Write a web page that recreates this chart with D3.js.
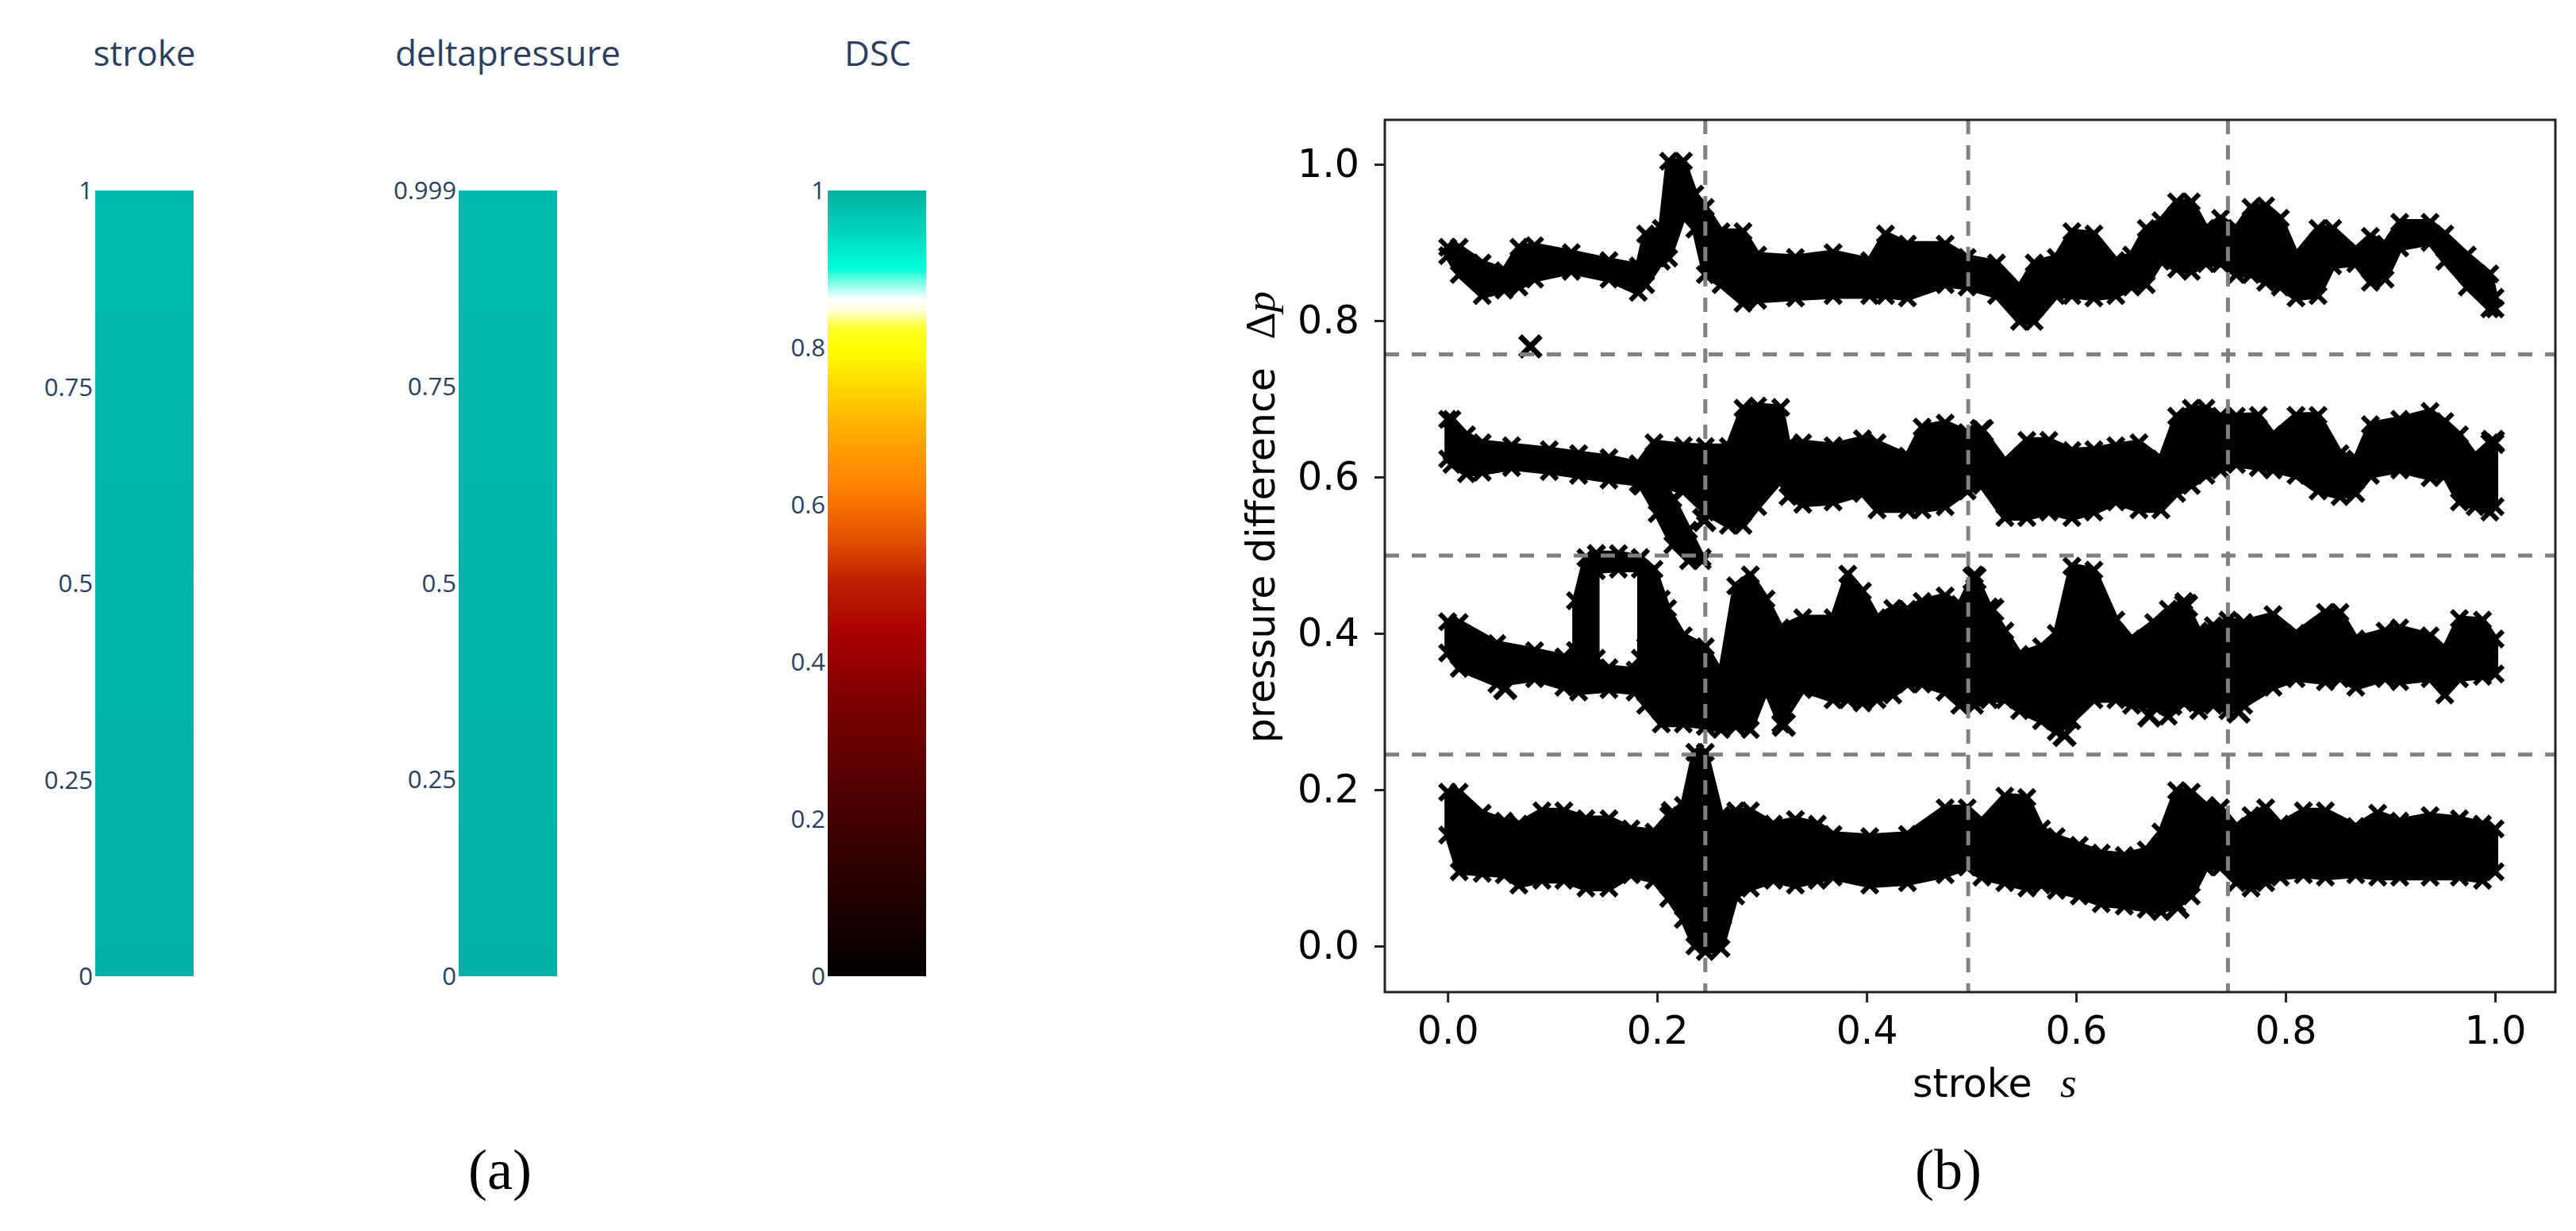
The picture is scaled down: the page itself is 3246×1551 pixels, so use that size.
<!DOCTYPE html>
<html>
<head>
<meta charset="utf-8">
<script src="https://cdn.jsdelivr.net/npm/d3@7"></script>
<style>
	body { margin: 0; background: #fff; }
	svg { display: block; }
</style>
</head>
<body>
<div id="chart"></div>
<script>
// ---- panel (a): colour bars ----
var barNames = ["stroke", "deltapressure", "DSC"];
var barMax = [1, 0.999, 1];
var barTicks = [[0, 0.25, 0.5, 0.75, 1], [0, 0.25, 0.5, 0.75, 0.999], [0, 0.2, 0.4, 0.6, 0.8, 1]];
var tealStops = [0, 1];
var tealColors = ["#00b0a4", "#00bbad"];
var dscStops = [0, 0.09, 0.19, 0.29, 0.356, 0.436, 0.503, 0.555, 0.622, 0.675, 0.721, 0.8, 0.825, 0.848, 0.861, 0.887, 0.9, 0.954, 1];
var dscColors = ["#000000", "#200000", "#400000", "#660000", "#800000", "#aa0000", "#c02000", "#e05000", "#ff8000", "#ffa000", "#ffc000", "#ffff00", "#ffff30", "#ffffe0", "#ffffff", "#60ffe0", "#00ffd8", "#00d0b8", "#00b0a0"];

// ---- panel (b): scatter of pressure difference vs stroke ----
var xTicks = [0, 0.2, 0.4, 0.6, 0.8, 1.0];
var yTicks = [0, 0.2, 0.4, 0.6, 0.8, 1.0];
var vLines = [0.246, 0.497, 0.745];
var hLines = [0.245, 0.4995, 0.757];

// bands as [stroke, lower, upper] envelopes
var band1 = [
	[0.0, 0.875, 0.902], [0.011, 0.851, 0.902], [0.033, 0.824, 0.882], [0.054, 0.831, 0.872],
	[0.068, 0.835, 0.902], [0.083, 0.845, 0.904], [0.118, 0.855, 0.895], [0.154, 0.845, 0.885],
	[0.182, 0.828, 0.878], [0.189, 0.838, 0.919], [0.204, 0.868, 0.926], [0.211, 0.872, 1.012],
	[0.225, 0.926, 1.012], [0.236, 0.909, 0.970], [0.246, 0.851, 0.953], [0.261, 0.838, 0.922],
	[0.282, 0.814, 0.922], [0.296, 0.818, 0.892], [0.332, 0.821, 0.889], [0.368, 0.824, 0.895],
	[0.403, 0.824, 0.885], [0.418, 0.824, 0.919], [0.439, 0.821, 0.906], [0.475, 0.838, 0.906],
	[0.496, 0.835, 0.889], [0.524, 0.824, 0.882], [0.546, 0.791, 0.851], [0.560, 0.791, 0.882],
	[0.581, 0.824, 0.889], [0.596, 0.824, 0.922], [0.617, 0.821, 0.919], [0.638, 0.824, 0.885],
	[0.653, 0.835, 0.892], [0.667, 0.838, 0.926], [0.681, 0.868, 0.936], [0.696, 0.858, 0.960],
	[0.710, 0.855, 0.960], [0.724, 0.865, 0.926], [0.738, 0.865, 0.939], [0.753, 0.851, 0.926],
	[0.767, 0.851, 0.953], [0.781, 0.841, 0.955], [0.795, 0.835, 0.939], [0.810, 0.821, 0.892],
	[0.831, 0.824, 0.926], [0.845, 0.862, 0.926], [0.867, 0.865, 0.899], [0.881, 0.841, 0.916],
	[0.895, 0.845, 0.906], [0.909, 0.885, 0.934], [0.938, 0.892, 0.934], [0.952, 0.868, 0.919],
	[0.9735, 0.835, 0.892], [0.995, 0.807, 0.868], [1.0, 0.807, 0.838]
];
var band2 = [
	[0.0, 0.615, 0.682], [0.004, 0.608, 0.682], [0.018, 0.596, 0.662], [0.033, 0.598, 0.652],
	[0.061, 0.604, 0.648], [0.097, 0.599, 0.643], [0.125, 0.594, 0.638], [0.154, 0.588, 0.633],
	[0.182, 0.584, 0.625], [0.197, 0.584, 0.652], [0.225, 0.574, 0.648], [0.246, 0.547, 0.647],
	[0.268, 0.530, 0.647], [0.282, 0.530, 0.696], [0.296, 0.554, 0.699], [0.318, 0.588, 0.697],
	[0.325, 0.567, 0.648], [0.339, 0.557, 0.652], [0.368, 0.560, 0.648], [0.396, 0.571, 0.657],
	[0.410, 0.550, 0.652], [0.439, 0.550, 0.635], [0.453, 0.550, 0.672], [0.475, 0.554, 0.677],
	[0.496, 0.574, 0.665], [0.510, 0.581, 0.669], [0.532, 0.540, 0.628], [0.553, 0.540, 0.655],
	[0.574, 0.547, 0.655], [0.596, 0.540, 0.642], [0.617, 0.547, 0.643], [0.638, 0.560, 0.648],
	[0.660, 0.550, 0.652], [0.681, 0.550, 0.631], [0.696, 0.571, 0.686], [0.710, 0.581, 0.696],
	[0.724, 0.594, 0.696], [0.738, 0.601, 0.686], [0.753, 0.608, 0.686], [0.774, 0.604, 0.687],
	[0.788, 0.601, 0.662], [0.810, 0.594, 0.687], [0.831, 0.574, 0.687], [0.852, 0.567, 0.638],
	[0.867, 0.571, 0.631], [0.881, 0.594, 0.675], [0.909, 0.601, 0.682], [0.938, 0.591, 0.692],
	[0.952, 0.594, 0.679], [0.966, 0.560, 0.662], [0.981, 0.554, 0.635], [0.995, 0.547, 0.652],
	[1.0, 0.554, 0.652]
];
var band2Tail = [
	[0.185, 0.580, 0.620], [0.200, 0.545, 0.610], [0.215, 0.505, 0.580], [0.230, 0.485, 0.540], [0.243, 0.485, 0.505]
];
var band3 = [
	[0.0, 0.367, 0.423], [0.011, 0.347, 0.422], [0.047, 0.327, 0.395], [0.083, 0.334, 0.386],
	[0.111, 0.323, 0.378], [0.125, 0.317, 0.381], [0.154, 0.320, 0.364], [0.179, 0.317, 0.361],
	[0.189, 0.300, 0.391], [0.204, 0.276, 0.452], [0.225, 0.276, 0.405], [0.246, 0.273, 0.391],
	[0.261, 0.269, 0.357], [0.275, 0.273, 0.469], [0.289, 0.269, 0.483], [0.304, 0.320, 0.452],
	[0.318, 0.276, 0.415], [0.339, 0.320, 0.428], [0.368, 0.307, 0.428], [0.382, 0.307, 0.484],
	[0.396, 0.303, 0.462], [0.410, 0.307, 0.428], [0.425, 0.313, 0.440], [0.439, 0.327, 0.439],
	[0.453, 0.327, 0.449], [0.475, 0.317, 0.456], [0.489, 0.300, 0.445], [0.503, 0.300, 0.483],
	[0.517, 0.307, 0.442], [0.532, 0.307, 0.411], [0.546, 0.293, 0.381], [0.567, 0.280, 0.391],
	[0.581, 0.266, 0.408], [0.596, 0.280, 0.494], [0.617, 0.307, 0.489], [0.638, 0.307, 0.425],
	[0.653, 0.300, 0.401], [0.674, 0.300, 0.422], [0.688, 0.286, 0.439], [0.703, 0.303, 0.449],
	[0.717, 0.293, 0.411], [0.731, 0.300, 0.418], [0.745, 0.293, 0.425], [0.760, 0.300, 0.422],
	[0.788, 0.323, 0.432], [0.810, 0.334, 0.408], [0.838, 0.330, 0.435], [0.852, 0.334, 0.435],
	[0.867, 0.323, 0.401], [0.895, 0.334, 0.411], [0.909, 0.330, 0.415], [0.938, 0.334, 0.405],
	[0.952, 0.313, 0.388], [0.966, 0.334, 0.427], [0.988, 0.337, 0.425], [1.0, 0.340, 0.401]
];
var band3LoopLeft = [[0.122, 0.370, 0.450], [0.132, 0.370, 0.505], [0.142, 0.360, 0.510]];
var band3LoopTop = [[0.142, 0.472, 0.510], [0.163, 0.474, 0.510], [0.184, 0.474, 0.505]];
var band3LoopRight = [[0.184, 0.360, 0.505], [0.197, 0.360, 0.490], [0.210, 0.360, 0.440]];
var band4 = [
	[0.0, 0.134, 0.205], [0.011, 0.087, 0.205], [0.033, 0.085, 0.178], [0.054, 0.083, 0.168],
	[0.068, 0.070, 0.164], [0.090, 0.076, 0.181], [0.111, 0.076, 0.181], [0.132, 0.066, 0.171],
	[0.154, 0.066, 0.171], [0.175, 0.083, 0.158], [0.197, 0.076, 0.154], [0.211, 0.053, 0.175],
	[0.225, 0.026, 0.188], [0.236, -0.008, 0.256], [0.246, -0.015, 0.256], [0.261, -0.011, 0.175],
	[0.275, 0.056, 0.181], [0.289, 0.066, 0.181], [0.311, 0.076, 0.164], [0.332, 0.070, 0.170],
	[0.353, 0.076, 0.164], [0.368, 0.080, 0.151], [0.403, 0.070, 0.148], [0.439, 0.073, 0.151],
	[0.475, 0.083, 0.185], [0.496, 0.093, 0.185], [0.510, 0.080, 0.168], [0.532, 0.073, 0.200],
	[0.553, 0.066, 0.198], [0.567, 0.070, 0.158], [0.581, 0.063, 0.148], [0.603, 0.056, 0.137],
	[0.624, 0.046, 0.127], [0.646, 0.043, 0.124], [0.667, 0.039, 0.131], [0.681, 0.036, 0.154],
	[0.696, 0.046, 0.207], [0.710, 0.056, 0.205], [0.724, 0.093, 0.188], [0.738, 0.093, 0.185],
	[0.753, 0.073, 0.161], [0.767, 0.066, 0.175], [0.781, 0.073, 0.185], [0.795, 0.080, 0.164],
	[0.817, 0.083, 0.181], [0.838, 0.080, 0.181], [0.867, 0.083, 0.161], [0.888, 0.080, 0.178],
	[0.909, 0.080, 0.168], [0.938, 0.080, 0.175], [0.966, 0.080, 0.171], [0.988, 0.076, 0.164],
	[1.0, 0.087, 0.158]
];
// single outlying markers [stroke, dp]
var strays = [
	[0.079, 0.767], [0.510, 0.659], [0.245, 0.545], [0.250, 0.565], [0.998, 0.645],
	[0.321, 0.283], [0.589, 0.270], [0.670, 0.295], [0.690, 0.310], [0.705, 0.435],
	[0.755, 0.300], [0.503, 0.470], [0.260, 0.040], [0.697, 0.050], [0.215, 0.170],
	[0.055, 0.330], [0.520, 0.430]
];

var W = 3246, H = 1551;
var svg = d3.select("#chart").append("svg")
	.attr("width", W)
	.attr("height", H);
var defs = svg.append("defs");

// ---------- panel (a) ----------
var barX = [120, 578, 1043];
var barW = 124;
var barTop = 240, barBottom = 1230;
var titleX = [182, 640, 1106];
var plotlyFont = "'Open Sans', 'Noto Sans', sans-serif";
var plotlyInk = "#2a3f5f";

function addGradient (id, stops, colors) {
	var grad = defs.append("linearGradient")
		.attr("id", id)
		.attr("x1", 0).attr("y1", 1)
		.attr("x2", 0).attr("y2", 0);
	grad.selectAll("stop")
		.data(stops)
		.enter()
		.append("stop")
		.attr("offset", function (d) { return d; })
		.attr("stop-color", function (d, i) { return colors[i]; });
}

addGradient("teal", tealStops, tealColors);
addGradient("dsc", dscStops, dscColors);
var barFills = ["url(#teal)", "url(#teal)", "url(#dsc)"];

barNames.forEach(function (name, i) {
	var g = svg.append("g");
	var scale = d3.scaleLinear().domain([0, barMax[i]]).range([barBottom, barTop]);

	g.append("rect")
		.attr("x", barX[i])
		.attr("y", barTop)
		.attr("width", barW)
		.attr("height", barBottom - barTop)
		.attr("fill", barFills[i]);

	g.selectAll(".cb-tick")
		.data(barTicks[i])
		.enter()
		.append("text")
		.attr("class", "cb-tick")
		.attr("x", barX[i] - 3)
		.attr("y", function (d) { return scale(d); })
		.attr("dy", "0.36em")
		.attr("text-anchor", "end")
		.attr("font-family", plotlyFont)
		.attr("font-size", 31)
		.attr("fill", plotlyInk)
		.text(function (d) { return String(d); });

	g.append("text")
		.attr("x", titleX[i])
		.attr("y", 83)
		.attr("text-anchor", "middle")
		.attr("font-family", plotlyFont)
		.attr("font-size", 44)
		.attr("fill", plotlyInk)
		.text(name);
});

// ---------- panel (b) ----------
var pLeft = 1745, pRight = 3220, pTop = 151, pBottom = 1250;
var x = d3.scaleLinear().domain([-0.06, 1.0576]).range([pLeft, pRight]);
var y = d3.scaleLinear().domain([-0.0589, 1.0569]).range([pBottom, pTop]);
var mplFont = "'DejaVu Sans', sans-serif";
var fs = 49;

var plot = svg.append("g");
var inset = 8;
var edgeMarker = "M-10,-10L10,10M-10,10L10,-10";
var strayMarker = "M-13,-13L13,13M-13,13L13,-13";

function drawBand (data) {
	var pts = data.map(function (d) {
		var t = y(d[2]) + inset;
		var b = y(d[1]) - inset;
		if (t > b) { t = b = (t + b) / 2; }
		return { x: x(d[0]), top: t, bot: b };
	});

	var area = d3.area()
		.x(function (d) { return d.x; })
		.y0(function (d) { return d.bot; })
		.y1(function (d) { return d.top; });

	plot.append("path")
		.datum(pts)
		.attr("d", area)
		.attr("fill", "#000")
		.attr("stroke", "#000")
		.attr("stroke-width", 8)
		.attr("stroke-linejoin", "round");

	var edges = [];
	pts.forEach(function (p) {
		edges.push([p.x, p.top]);
		edges.push([p.x, p.bot]);
	});

	plot.selectAll(null)
		.data(edges)
		.enter()
		.append("path")
		.attr("transform", function (d) { return "translate(" + d[0] + "," + d[1] + ")"; })
		.attr("d", edgeMarker)
		.attr("stroke", "#000")
		.attr("stroke-width", 6)
		.attr("fill", "none");
}

[band1, band2, band2Tail, band3, band3LoopLeft, band3LoopTop, band3LoopRight, band4].forEach(drawBand);

plot.selectAll(".stray")
	.data(strays)
	.enter()
	.append("path")
	.attr("class", "stray")
	.attr("transform", function (d) { return "translate(" + x(d[0]) + "," + y(d[1]) + ")"; })
	.attr("d", strayMarker)
	.attr("stroke", "#000")
	.attr("stroke-width", 7)
	.attr("fill", "none");

// dashed guides
plot.selectAll(".vline")
	.data(vLines)
	.enter()
	.append("line")
	.attr("class", "vline")
	.attr("x1", function (d) { return x(d); })
	.attr("x2", function (d) { return x(d); })
	.attr("y1", pTop)
	.attr("y2", pBottom)
	.attr("stroke", "#808080")
	.attr("stroke-width", 5)
	.attr("stroke-dasharray", "18,14");

plot.selectAll(".hline")
	.data(hLines)
	.enter()
	.append("line")
	.attr("class", "hline")
	.attr("x1", pLeft)
	.attr("x2", pRight)
	.attr("y1", function (d) { return y(d); })
	.attr("y2", function (d) { return y(d); })
	.attr("stroke", "#808080")
	.attr("stroke-width", 5)
	.attr("stroke-dasharray", "18,16");

// axes
var xAxis = svg.append("g")
	.attr("transform", "translate(0," + pBottom + ")")
	.call(d3.axisBottom(x).tickValues(xTicks).tickFormat(d3.format(".1f")).tickSize(13).tickPadding(17));
var yAxis = svg.append("g")
	.attr("transform", "translate(" + pLeft + ",0)")
	.call(d3.axisLeft(y).tickValues(yTicks).tickFormat(d3.format(".1f")).tickSize(13).tickPadding(19));

[xAxis, yAxis].forEach(function (ax) {
	ax.select(".domain").remove();
	ax.selectAll("line").attr("stroke", "#222").attr("stroke-width", 3);
	ax.selectAll("text")
		.attr("font-family", mplFont)
		.attr("font-size", fs)
		.attr("fill", "#000");
});

svg.append("rect")
	.attr("x", pLeft)
	.attr("y", pTop)
	.attr("width", pRight - pLeft)
	.attr("height", pBottom - pTop)
	.attr("fill", "none")
	.attr("stroke", "#222")
	.attr("stroke-width", 3);

// axis labels
svg.append("text")
	.attr("x", 2410)
	.attr("y", 1382)
	.attr("font-family", mplFont)
	.attr("font-size", fs)
	.text("stroke");
svg.append("text")
	.attr("x", 2596)
	.attr("y", 1382)
	.attr("font-family", "'Liberation Serif', 'DejaVu Serif', serif")
	.attr("font-style", "italic")
	.attr("font-size", fs + 4)
	.text("s");

svg.append("text")
	.attr("transform", "translate(1606,463) rotate(-90)")
	.attr("text-anchor", "end")
	.attr("font-family", mplFont)
	.attr("font-size", fs)
	.text("pressure difference");
var dp = svg.append("text")
	.attr("transform", "translate(1606,367) rotate(-90)")
	.attr("text-anchor", "end")
	.attr("font-family", "'Liberation Serif', 'DejaVu Serif', serif")
	.attr("font-size", fs + 4);
dp.append("tspan").text("Δ");
dp.append("tspan").attr("font-style", "italic").text("p");

// captions
var captions = [["(a)", 630], ["(b)", 2455]];
svg.selectAll(".caption")
	.data(captions)
	.enter()
	.append("text")
	.attr("class", "caption")
	.attr("x", function (d) { return d[1]; })
	.attr("y", 1498)
	.attr("text-anchor", "middle")
	.attr("font-family", "'Liberation Serif', 'Times New Roman', serif")
	.attr("font-size", 72)
	.text(function (d) { return d[0]; });
</script>
</body>
</html>
